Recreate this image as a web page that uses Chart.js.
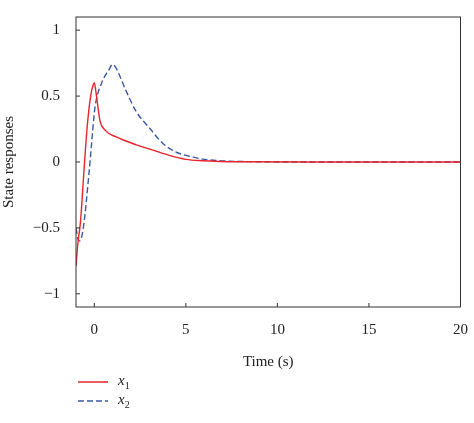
<!DOCTYPE html>
<html><head><meta charset="utf-8">
<script src="https://cdn.jsdelivr.net/npm/chart.js@4"></script>
<style>body{margin:0;background:#fff}#w{position:relative;width:474px;height:423px}
.lg{position:absolute;left:78px;font:italic 15px "Liberation Serif";color:#222}
.lg svg{vertical-align:middle;margin-right:10px}
sub{font-style:normal;font-size:10px}</style></head>
<body><div id="w"><canvas id="c" width="474" height="423"></canvas>
<div class="lg" style="top:372px"><svg width="30" height="4"><line x1="0" y1="2" x2="30" y2="2" stroke="#e8232a" stroke-width="1.5"/></svg>x<sub>1</sub></div>
<div class="lg" style="top:391px"><svg width="30" height="4"><line x1="0" y1="2" x2="30" y2="2" stroke="#3a5aa8" stroke-width="1.5" stroke-dasharray="6,3"/></svg>x<sub>2</sub></div>
</div>
<script>
const x1T=[-1,-0.9,-0.76,-0.58,-0.4,-0.2,-0.05,0,0.1,0.3,0.6,1.2,2.3,3.2,4.1,5,5.9,8,12,20];
const x1V=[-0.79,-0.62,-0.46,-0.1,0.25,0.5,0.59,0.6,0.52,0.32,0.24,0.19,0.13,0.09,0.05,0.02,0.01,0.002,0,0];
const x2T=[-1,-0.9,-0.8,-0.6,-0.3,0,0.05,0.4,0.8,1.0,1.2,1.7,2.3,3,3.75,4.4,5,5.8,6.8,9,12,20];
const x2V=[-0.5,-0.58,-0.6,-0.5,-0.1,0.37,0.43,0.6,0.7,0.74,0.71,0.55,0.38,0.26,0.14,0.08,0.05,0.025,0.01,0.002,0,0];
const xTicks=[0,5,10,15,20];
const yTicks=[-1,-0.5,0,0.5,1];
const yLabels=['−1','−0.5','0','0.5','1'];
const pts=(t,v)=>t.map((x,i)=>({x,y:v[i]}));
const F='"Liberation Serif"';
const inward={id:'inward',afterDraw(c){const g=c.ctx,a=c.chartArea,sx=c.scales.x,sy=c.scales.y;
g.save();g.strokeStyle='#333';g.lineWidth=1;g.strokeRect(a.left,a.top,a.right-a.left,a.bottom-a.top);
g.beginPath();xTicks.forEach(t=>{const p=sx.getPixelForValue(t);g.moveTo(p,a.bottom);g.lineTo(p,a.bottom-4);});
yTicks.forEach(t=>{const p=sy.getPixelForValue(t);g.moveTo(a.left,p);g.lineTo(a.left+4,p);});g.stroke();g.restore();}};
new Chart(document.getElementById('c'),{type:'line',
data:{datasets:[
{data:pts(x1T,x1V),borderColor:'#e8232a',borderWidth:1.4,pointRadius:0,cubicInterpolationMode:'monotone'},
{data:pts(x2T,x2V),borderColor:'#3a5aa8',borderWidth:1.4,borderDash:[6,3],pointRadius:0,cubicInterpolationMode:'monotone'}]},
options:{animation:false,responsive:false,layout:{padding:{top:-16,right:-6,bottom:52,left:0}},
plugins:{legend:{display:false},tooltip:{enabled:false}},
scales:{
x:{type:'linear',min:-1,max:20,afterBuildTicks:s=>{s.ticks=xTicks.map(v=>({value:v}))},
 afterFit:s=>{s.height=64},grid:{display:false},border:{display:false},
 ticks:{color:'#222',font:{family:F,size:15},padding:6,maxRotation:0},
 title:{display:true,text:'Time (s)',color:'#222',font:{family:F,size:15},padding:0}},
y:{min:-1.1,max:1.1,afterBuildTicks:s=>{s.ticks=yTicks.map(v=>({value:v}))},
 afterFit:s=>{s.width=76},grid:{display:false},border:{display:false},
 ticks:{color:'#222',font:{family:F,size:15},padding:8,callback:(v,i)=>yLabels[i]},
 title:{display:true,text:'State responses',color:'#222',font:{family:F,size:15},padding:0}}}},
plugins:[inward]});
</script></body></html>
